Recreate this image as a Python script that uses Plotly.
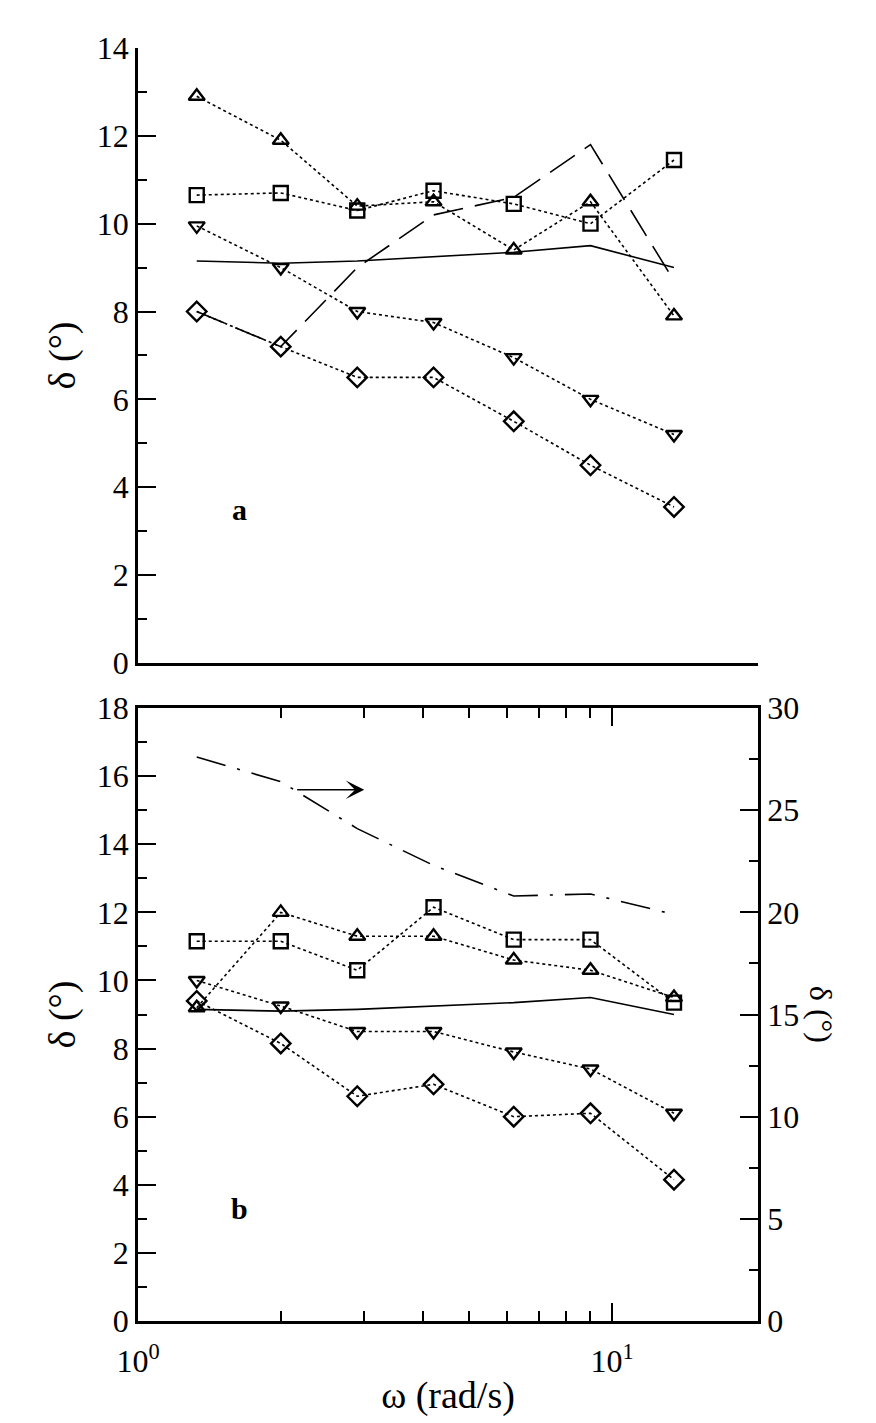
import plotly.graph_objects as go
import numpy as np

omega = [1.33, 2.0, 2.9, 4.2, 6.2, 9.0, 13.5]

a_tri = [12.9, 11.9, 10.4, 10.5, 9.4, 10.5, 7.9]
a_sq = [10.65, 10.7, 10.3, 10.75, 10.45, 10.0, 11.45]
a_dn = [9.95, 9.0, 8.0, 7.75, 6.95, 6.0, 5.2]
a_dia = [8.0, 7.2, 6.5, 6.5, 5.5, 4.5, 3.55]
a_solid = [9.15, 9.1, 9.15, 9.25, 9.35, 9.5, 9.0]
a_dash = [8.0, 7.2, 9.0, 10.2, 10.6, 11.8, 8.7]

b_tri = [9.2, 12.0, 11.3, 11.3, 10.6, 10.3, 9.5]
b_sq = [11.15, 11.15, 10.3, 12.15, 11.2, 11.2, 9.35]
b_dn = [10.0, 9.25, 8.5, 8.5, 7.9, 7.4, 6.1]
b_dia = [9.4, 8.15, 6.6, 6.95, 6.0, 6.1, 4.15]
b_solid = [9.15, 9.1, 9.15, 9.25, 9.35, 9.5, 9.0]
b_dashdot = [27.6, 26.4, 24.1, 22.3, 20.8, 20.9, 19.9]

FONT = "Liberation Serif"
fig = go.Figure()

def markers(x, y, sym, xa, ya, size=14):
    fig.add_trace(go.Scatter(x=x, y=y, xaxis=xa, yaxis=ya, mode="lines+markers",
                             line=dict(color="black", width=1.6, dash="dot"),
                             marker=dict(symbol=sym, size=size, color="black",
                                         line=dict(color="black", width=2.4))))

def line(x, y, dash, xa, ya):
    fig.add_trace(go.Scatter(x=x, y=y, xaxis=xa, yaxis=ya, mode="lines",
                             line=dict(color="black", width=1.6, dash=dash)))

line(omega, a_solid, "solid", "x", "y")
line(omega, a_dash, "30px,12px", "x", "y")
markers(omega, a_tri, "triangle-up-open", "x", "y")
markers(omega, a_sq, "square-open", "x", "y")
markers(omega, a_dn, "triangle-down-open", "x", "y")
markers(omega, a_dia, "diamond-open", "x", "y", 15)

line(omega, b_solid, "solid", "x2", "y2")
line(omega, b_dashdot, "30px,12px,3px,12px", "x2", "y3")
markers(omega, b_tri, "triangle-up-open", "x2", "y2")
markers(omega, b_sq, "square-open", "x2", "y2")
markers(omega, b_dn, "triangle-down-open", "x2", "y2")
markers(omega, b_dia, "diamond-open", "x2", "y2", 15)

xr = [0, np.log10(20.3)]
common = dict(showline=True, linecolor="black", linewidth=2.5, ticks="inside",
              tickcolor="black", tickwidth=2, showgrid=False, zeroline=False)
minor_x = dict(ticks="inside", ticklen=10, tickcolor="black", tickwidth=2,
               tickvals=[2, 3, 4, 5, 6, 7, 8, 9])

fig.update_layout(
    width=876, height=1423, plot_bgcolor="white", paper_bgcolor="white",
    showlegend=False, margin=dict(l=130, r=126, t=40, b=110),
    font=dict(family=FONT, size=32, color="black"),
    xaxis=dict(type="log", range=xr, domain=[0, 1], anchor="y", showticklabels=False,
               tickvals=[10], ticklen=0, minor=dict(ticklen=0, ticks=""), **common),
    yaxis=dict(range=[0, 14], domain=[0.517, 1], anchor="x", dtick=2, ticklen=18,
               minor=dict(dtick=1, ticks="inside", ticklen=9, tickcolor="black", tickwidth=2),
               title=dict(text="δ (°)", standoff=10), **common),
    xaxis2=dict(type="log", range=xr, domain=[0, 1], anchor="y2", mirror="ticks",
                tickvals=[1, 10], ticktext=["10<sup>0</sup>", "10<sup>1</sup>"], ticklen=18,
                ticklabelstandoff=10,
                minor=minor_x, title=dict(text="ω (rad/s)", standoff=4), **common),
    yaxis2=dict(range=[0, 18], domain=[0, 0.4815], anchor="x2", dtick=2, ticklen=18,
                minor=dict(dtick=1, ticks="inside", ticklen=9, tickcolor="black", tickwidth=2),
                title=dict(text="δ (°)", standoff=10), **common),
    yaxis3=dict(range=[0, 30], overlaying="y2", side="right", anchor="x2", dtick=5,
                ticklen=18, minor=dict(dtick=2.5, ticks="inside", ticklen=9,
                                       tickcolor="black", tickwidth=2), **common),
)

fig.add_annotation(text="<b>a</b>", x=np.log10(1.64), y=3.5, xref="x", yref="y",
                   showarrow=False, font=dict(size=30))
fig.add_annotation(text="<b>b</b>", x=np.log10(1.64), y=3.3, xref="x2", yref="y2",
                   showarrow=False, font=dict(size=30))
fig.add_annotation(text="δ (°)", textangle=90, xref="paper", yref="y2", x=1.135, y=9,
                   showarrow=False, font=dict(size=32))
# arrow indicating right axis (y2 units: 18/30 of right-axis units)
fig.add_shape(type="line", xref="x2", yref="y2", x0=np.log10(2.15), x1=np.log10(2.15),
              y0=22.8 * 0.6, y1=26.0 * 0.6, line=dict(color="black", width=1.6))
fig.add_annotation(xref="x2", yref="y2", axref="x2", ayref="y2",
                   x=np.log10(3.0), y=26.0 * 0.6, ax=np.log10(2.15), ay=26.0 * 0.6, text="",
                   showarrow=True, arrowhead=3, arrowsize=2.2, arrowwidth=1.4,
                   arrowcolor="black")

fig.write_html("out.html")
